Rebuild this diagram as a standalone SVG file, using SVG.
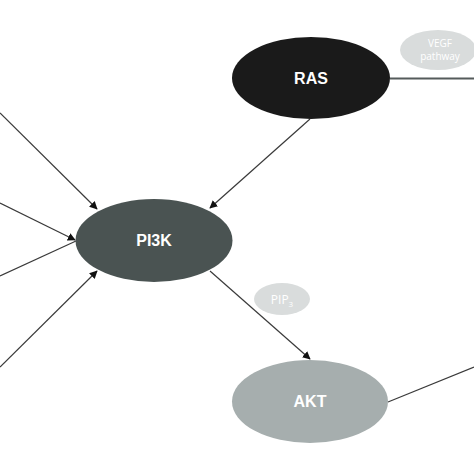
<svg xmlns="http://www.w3.org/2000/svg" width="474" height="474" viewBox="0 0 474 474">
<style>
.edge{stroke:#3a3a3a;stroke-width:1.2;fill:none}
.thick{stroke:#555b5b;stroke-width:2;fill:none}
.lbl{font-family:"Liberation Sans",Arial,sans-serif;font-weight:bold;font-size:16px;fill:#ffffff;text-anchor:middle}
.small{font-family:"Open Sans","Liberation Sans",Arial,sans-serif;font-size:10px;fill:#ffffff;text-anchor:middle}
</style>
<defs>
<marker id="arr" viewBox="0 0 10 10" refX="9" refY="5" markerWidth="8" markerHeight="8" markerUnits="userSpaceOnUse" orient="auto">
<path d="M0,0 L10,5 L0,10 z" fill="#111"/>
</marker>
</defs>
<rect width="474" height="474" fill="#ffffff"/>
<g id="connectors">
<line class="edge" x1="0" y1="113" x2="97" y2="209" marker-end="url(#arr)"/>
<line class="edge" x1="0" y1="203" x2="75" y2="240" marker-end="url(#arr)"/>
<line class="edge" x1="0" y1="276" x2="76" y2="241"/>
<line class="edge" x1="0" y1="367" x2="97" y2="271" marker-end="url(#arr)"/>
<line class="edge" x1="310" y1="119" x2="210" y2="208" marker-end="url(#arr)"/>
<line class="edge" x1="210" y1="271" x2="310" y2="359" marker-end="url(#arr)"/>
<line class="thick" x1="390" y1="78.5" x2="474" y2="78.5"/>
<line class="edge" x1="388" y1="402" x2="474" y2="367"/>
</g>
<g id="vegf">
<ellipse cx="438" cy="50" rx="38" ry="20" fill="#d9dcdc"/>
<text class="small" x="440" y="47">VEGF</text>
<text class="small" x="440" y="60">pathway</text>
</g>
<g id="ras">
<ellipse cx="311" cy="78" rx="79" ry="41" fill="#1a1a1a"/>
<text class="lbl" x="311" y="84">RAS</text>
</g>
<g id="pi3k">
<ellipse cx="154" cy="240.5" rx="78.5" ry="41.5" fill="#4a5352"/>
<text class="lbl" x="154" y="246">PI3K</text>
</g>
<g id="pip3">
<ellipse cx="282" cy="299" rx="28" ry="16" fill="#d9dcdc"/>
<text class="small" x="282" y="304" style="font-size:12px">PIP<tspan font-size="8" dy="3">3</tspan></text>
</g>
<g id="akt">
<ellipse cx="310" cy="401.5" rx="78" ry="41.5" fill="#a6aeae"/>
<text class="lbl" x="310" y="407">AKT</text>
</g>
</svg>
